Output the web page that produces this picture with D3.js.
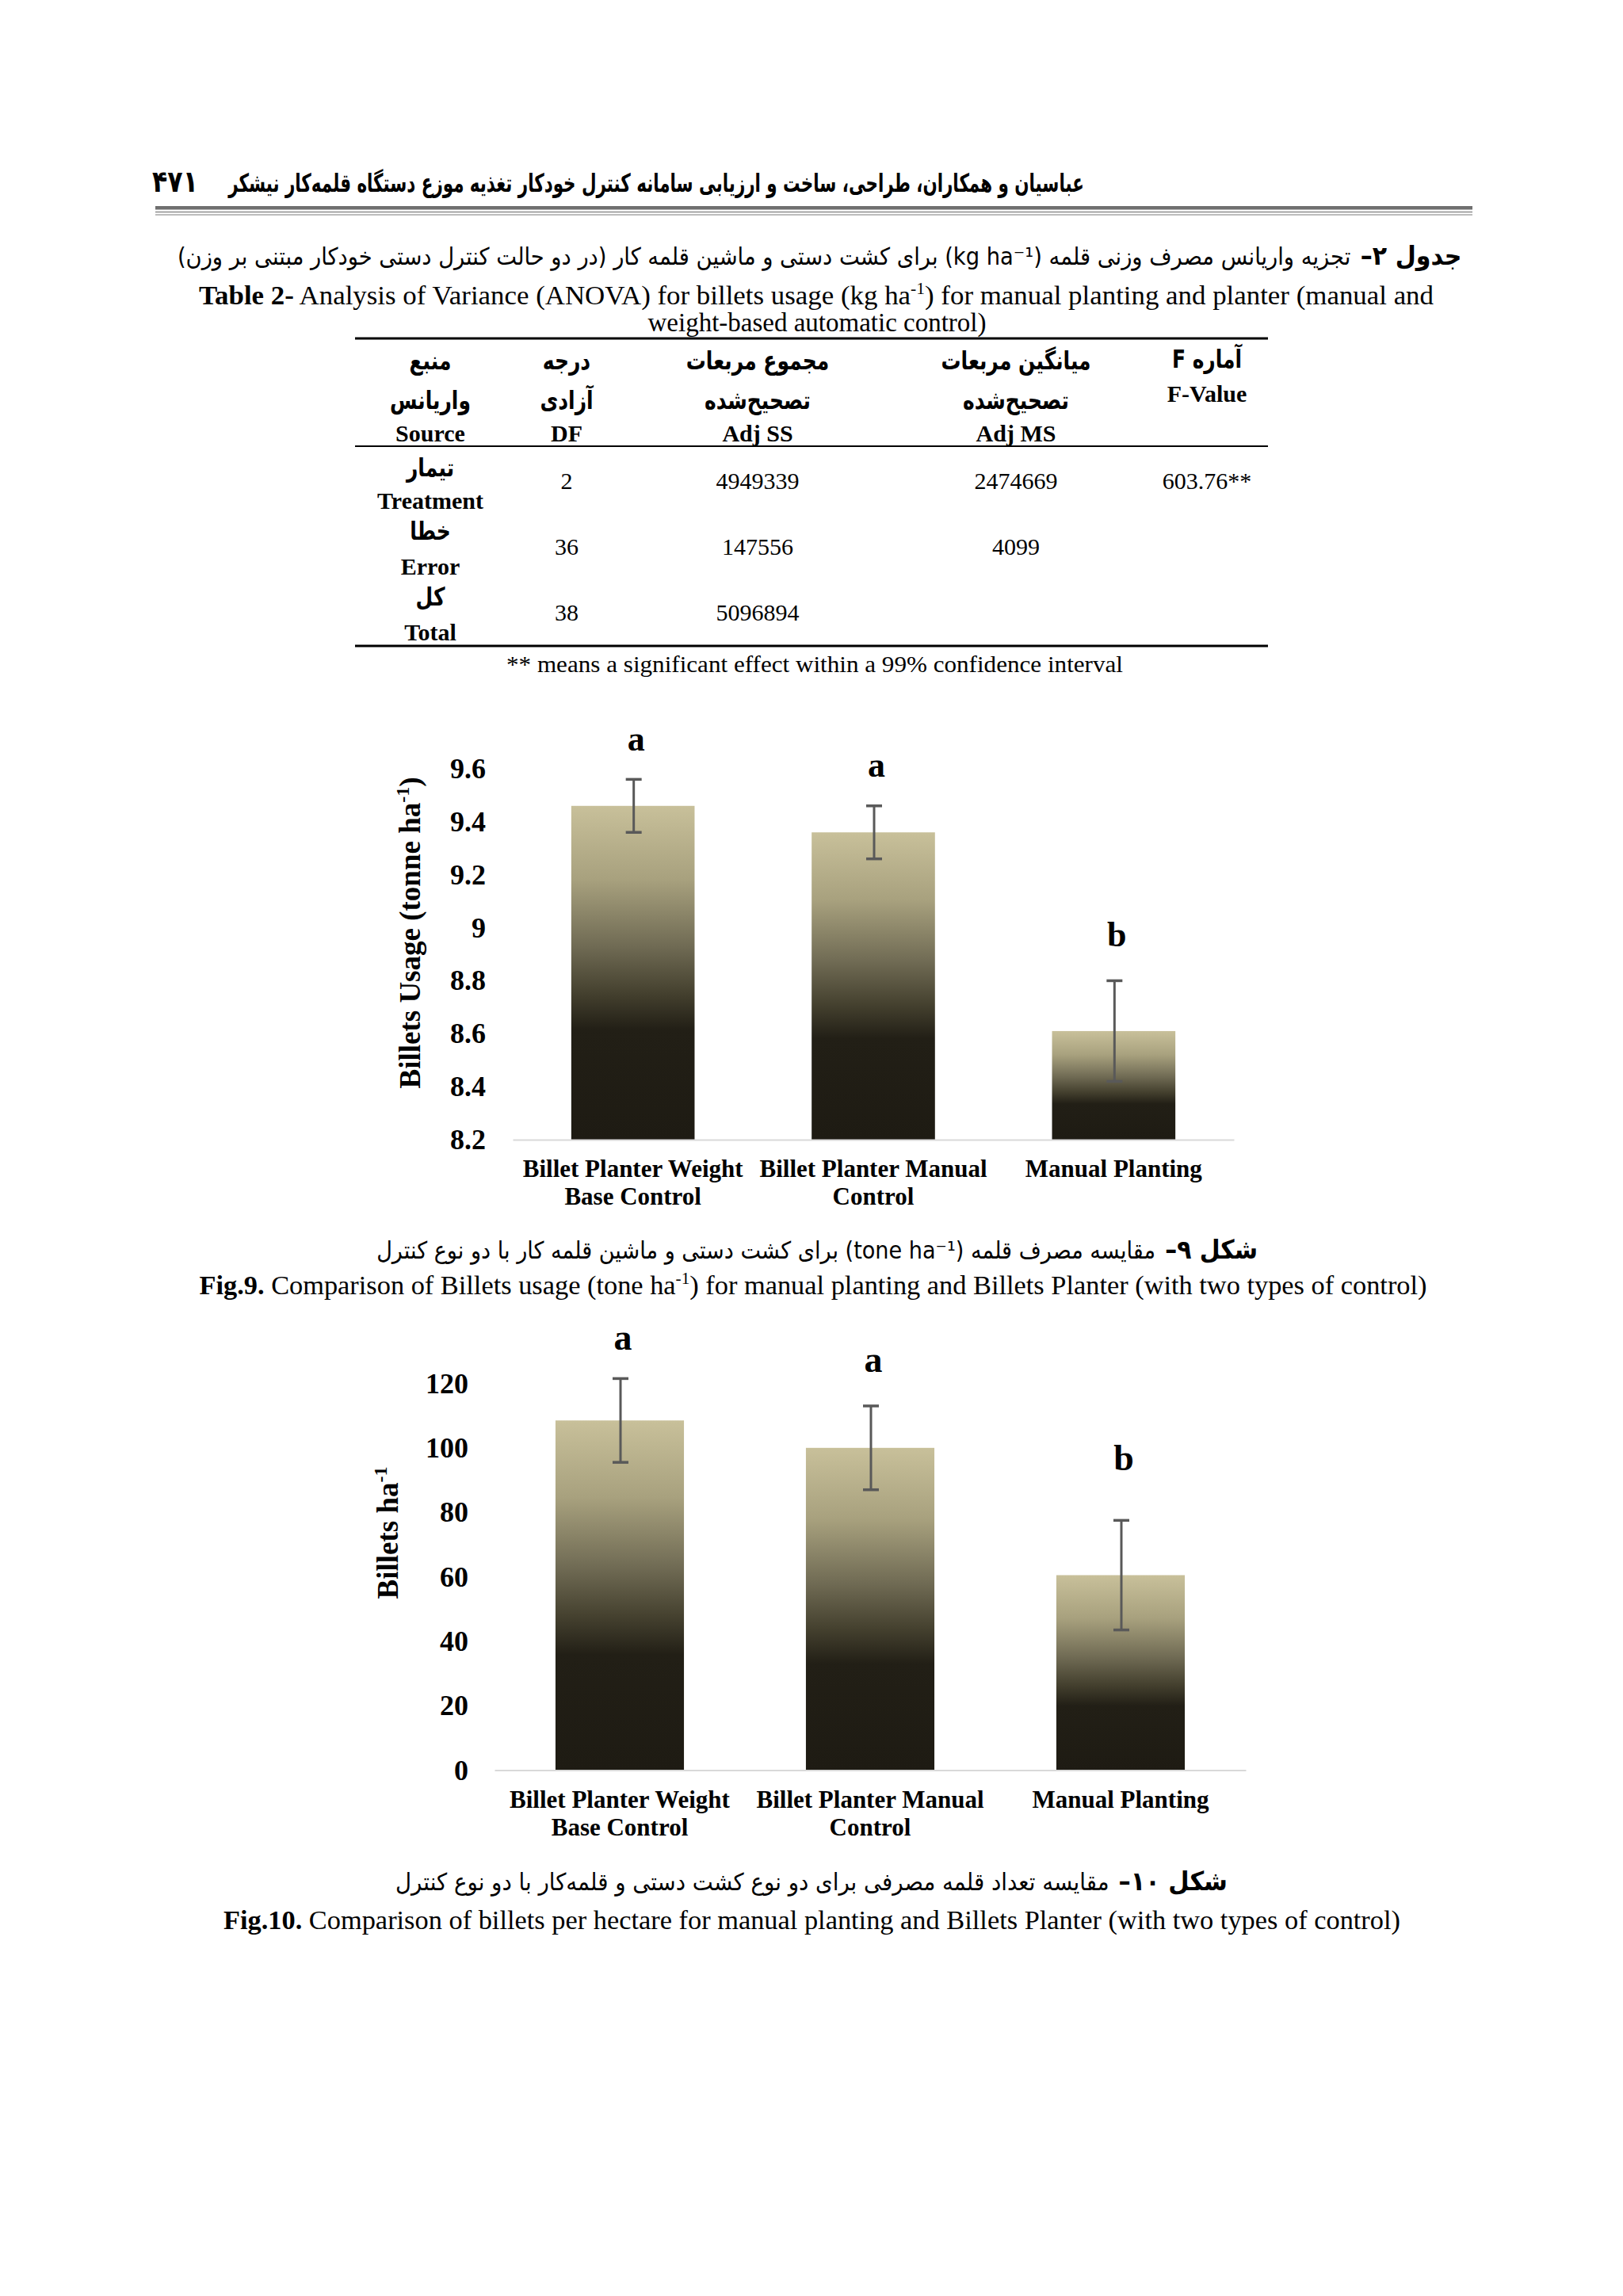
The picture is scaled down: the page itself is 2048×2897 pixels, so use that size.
<!DOCTYPE html>
<html>
<head>
<meta charset="utf-8">
<script src="https://cdn.jsdelivr.net/npm/d3@7"></script>
<style>
  html, body { margin: 0; padding: 0; background: #ffffff; }
  svg { display: block; }
</style>
</head>
<body>
<script>
// ---------------- DATA ----------------
const categories = [
  ["Billet Planter Weight", "Base Control"],
  ["Billet Planter Manual", "Control"],
  ["Manual Planting"]
];
const categoryKeys = ["weight", "manualControl", "manualPlanting"];

// Fig.9 – Billets usage (tonne/ha)
const usageValues = [9.46, 9.36, 8.61];
const usageErrors = [0.10, 0.10, 0.19];
const usageLetters = ["a", "a", "b"];
const usageLetterAt = [9.67, 9.57, 8.93];
const usageTicks = [8.2, 8.4, 8.6, 8.8, 9.0, 9.2, 9.4, 9.6];
const usageTickLabels = ["8.2", "8.4", "8.6", "8.8", "9", "9.2", "9.4", "9.6"];

// Fig.10 – Billets per hectare
const countValues = [108.5, 100, 60.5];
const countErrors = [13, 13, 17];
const countLetters = ["a", "a", "b"];
const countLetterAt = [130.4, 123.5, 93];
const countTicks = [0, 20, 40, 60, 80, 100, 120];
const countTickLabels = ["0", "20", "40", "60", "80", "100", "120"];

// Table 2 – ANOVA
const anovaSourceFa = ["تیمار", "خطا", "کل"];
const anovaSourceEn = ["Treatment", "Error", "Total"];
const anovaDF = ["2", "36", "38"];
const anovaSS = ["4949339", "147556", "5096894"];
const anovaMS = ["2474669", "4099", ""];
const anovaF = ["603.76**", "", ""];

// ---------------- SETUP ----------------
const W = 2048, H = 2897;
const SERIF = "'Liberation Serif', 'Times New Roman', serif";
const FA = "'DejaVu Sans', 'Noto Sans', sans-serif";

const svg = d3.select("body").append("svg")
  .attr("width", W).attr("height", H)
  .attr("viewBox", `0 0 ${W} ${H}`);
svg.append("rect").attr("width", W).attr("height", H).attr("fill", "#fff");

const defs = svg.append("defs");
const grad = defs.append("linearGradient").attr("id", "barGrad")
  .attr("x1", 0).attr("y1", 0).attr("x2", 0).attr("y2", 1);
[[0, "#c8c09a"], [0.22, "#a8a17e"], [0.42, "#706b54"], [0.56, "#45412f"], [0.67, "#221f16"], [1, "#1e1b13"]]
  .forEach(([o, c]) => grad.append("stop").attr("offset", o).attr("stop-color", c));

// rich text helper (LTR): parts [{t, bold, sup, size}]
function richText(g, x, y, parts, o) {
  const size = o.size;
  const t = g.append("text")
    .attr("x", x).attr("y", y)
    .attr("text-anchor", o.anchor || "middle")
    .attr("font-family", o.family || SERIF)
    .attr("font-size", size)
    .attr("font-weight", o.bold ? "bold" : "normal")
    .attr("fill", "#000");
  let shifted = false;
  parts.forEach(p => {
    const s = t.append("tspan").text(p.t);
    if (p.bold) s.attr("font-weight", "bold");
    if (p.sup) {
      s.attr("font-size", size * 0.62).attr("dy", -size * 0.38);
      shifted = true;
    } else if (shifted) {
      s.attr("dy", size * 0.38);
      shifted = false;
    }
  });
  if (o.textLength) t.attr("textLength", o.textLength).attr("lengthAdjust", "spacingAndGlyphs");
  return t;
}

// Persian text, horizontally scaled via transform (keeps true bounding box)
function faText(g, txt, size, bold) {
  return g.append("text")
    .attr("x", 0).attr("y", 0).attr("text-anchor", "middle").attr("direction", "rtl")
    .attr("font-family", FA).attr("font-size", size)
    .attr("font-weight", bold ? "bold" : "normal").attr("fill", "#000").text(txt);
}
function faFit(g, txt, cx, y, size, bold, opt) {
  const t = faText(g, txt, size, bold);
  const w = t.node().getComputedTextLength();
  const f = opt.width ? opt.width / w : opt.scale;
  t.attr("transform", `translate(${cx},${y}) scale(${f},1)`);
  return t;
}
// Persian line: bold prefix on the right, body to its left, fitted to a total width
function faLine(g, cx, y, totalW, prefix, body, pSize, bSize) {
  const pt = faText(g, prefix, pSize, true);
  const bt = faText(g, body, bSize, false);
  const pw = pt.node().getComputedTextLength();
  const bw = bt.node().getComputedTextLength();
  const gap = 12;
  const f = (totalW - gap) / (pw + bw);
  const right = cx + totalW / 2;
  pt.attr("transform", `translate(${right - pw * f / 2},${y}) scale(${f},1)`);
  bt.attr("transform", `translate(${right - pw * f - gap - bw * f / 2},${y}) scale(${f},1)`);
}

// ---------------- HEADER ----------------
faFit(svg, "۴۷۱", 221, 242, 38, true, { width: 58 });
faFit(svg, "عباسیان و همکاران، طراحی، ساخت و ارزیابی سامانه کنترل خودکار تغذیه موزع دستگاه قلمه\u200cکار نیشکر",
  828, 242, 32, true, { width: 1080 });
svg.append("rect").attr("x", 196).attr("y", 260).attr("width", 1662).attr("height", 4.5).attr("fill", "#6f6f6f");
svg.append("line").attr("x1", 196).attr("x2", 1858).attr("y1", 267.5).attr("y2", 267.5).attr("stroke", "#8c8c8c").attr("stroke-width", 1.6);
svg.append("line").attr("x1", 196).attr("x2", 1858).attr("y1", 271).attr("y2", 271).attr("stroke", "#a6a6a6").attr("stroke-width", 1.4);

// ---------------- TABLE CAPTION ----------------
faLine(svg, 1034, 334, 1621, "جدول ۲–",
  "تجزیه واریانس مصرف وزنی قلمه (kg ha⁻¹) برای کشت دستی و ماشین قلمه کار (در دو حالت کنترل دستی خودکار مبتنی بر وزن)", 33, 30);

richText(svg, 1030, 384, [
  { t: "Table 2-", bold: true },
  { t: " Analysis of Variance (ANOVA) for billets usage (kg ha" },
  { t: "-1", sup: true },
  { t: ") for manual planting and planter (manual and" }
], { size: 33, textLength: 1558 });
richText(svg, 1031, 418, [{ t: "weight-based automatic control)" }], { size: 33 });

// ---------------- TABLE ----------------
const tbl = svg.append("g");
const tX0 = 448, tX1 = 1600;
const colX = [543, 715, 956, 1282, 1523];
[[427, 2.8], [563, 2.2], [815, 2.8]].forEach(([y, w]) =>
  tbl.append("line").attr("x1", tX0).attr("x2", tX1).attr("y1", y).attr("y2", y)
    .attr("stroke", "#000").attr("stroke-width", w));

const headers = [
  [{ t: "منبع", fa: 1, y: 455 }, { t: "واریانس", fa: 1, y: 505 }, { t: "Source", y: 547 }],
  [{ t: "درجه", fa: 1, y: 455 }, { t: "آزادی", fa: 1, y: 505 }, { t: "DF", y: 547 }],
  [{ t: "مجموع مربعات", fa: 1, y: 455 }, { t: "تصحیح\u200cشده", fa: 1, y: 505 }, { t: "Adj SS", y: 547 }],
  [{ t: "میانگین مربعات", fa: 1, y: 455 }, { t: "تصحیح\u200cشده", fa: 1, y: 505 }, { t: "Adj MS", y: 547 }],
  [{ t: "آماره F", fa: 1, y: 453 }, { t: "F-Value", y: 497 }]
];
headers.forEach((col, i) => col.forEach(c => {
  if (c.fa) faFit(tbl, c.t, colX[i], c.y + 11, 32, true, { scale: 0.78 });
  else richText(tbl, colX[i], c.y + 10, [{ t: c.t }], { size: 30, bold: true });
}));

const rowFaY = [590, 670, 753], rowEnY = [632, 715, 798], rowValY = [607, 690, 773];
anovaSourceFa.forEach((s, i) => {
  faFit(tbl, s, colX[0], rowFaY[i] + 11, 32, true, { scale: 0.78 });
  richText(tbl, colX[0], rowEnY[i] + 10, [{ t: anovaSourceEn[i] }], { size: 30, bold: true });
  [anovaDF, anovaSS, anovaMS, anovaF].forEach((arr, j) => {
    if (arr[i]) richText(tbl, colX[j + 1], rowValY[i] + 10, [{ t: arr[i] }], { size: 30 });
  });
});
richText(tbl, 1028, 848, [{ t: "** means a significant effect within a 99% confidence interval" }], { size: 29, textLength: 778 });

// ---------------- CHARTS ----------------
function drawChart(cfg) {
  const g = svg.append("g");
  const x = d3.scaleBand().domain(categoryKeys).range(cfg.xRange)
    .paddingInner(0.487).paddingOuter(0.2435);
  const y = d3.scaleLinear().domain(cfg.yDomain).range(cfg.yRange);
  const base = cfg.yDomain[0];

  // y axis labels (no line, no ticks)
  const yAxis = d3.axisLeft(y).tickValues(cfg.ticks)
    .tickFormat((d, i) => cfg.tickLabels[i]).tickSize(0).tickPadding(cfg.xRange[0] - cfg.labelRight);
  const ya = g.append("g").attr("transform", `translate(${cfg.xRange[0]},0)`).call(yAxis);
  ya.select(".domain").remove();
  ya.selectAll("text").attr("font-family", SERIF).attr("font-size", 36)
    .attr("font-weight", "bold").attr("fill", "#000");

  // bars
  g.selectAll("rect.bar").data(cfg.values).join("rect").attr("class", "bar")
    .attr("x", (d, i) => x(categoryKeys[i]))
    .attr("width", x.bandwidth())
    .attr("y", d => y(d))
    .attr("height", d => y(base) - y(d))
    .attr("fill", "url(#barGrad)");

  // x axis line
  const xAxis = d3.axisBottom(x).tickSize(0).tickFormat("");
  const xa = g.append("g").attr("transform", `translate(0,${y(base)})`).call(xAxis);
  xa.select(".domain").attr("stroke", "#d9d9d9").attr("stroke-width", 2.2);

  // error bars
  const eb = g.selectAll("g.err").data(cfg.values).join("g").attr("class", "err")
    .attr("transform", (d, i) => `translate(${x(categoryKeys[i]) + x.bandwidth() / 2 + 1},0)`);
  eb.append("line").attr("x1", 0).attr("x2", 0)
    .attr("y1", (d, i) => y(d + cfg.errors[i]))
    .attr("y2", (d, i) => y(Math.max(base, d - cfg.errors[i])))
    .attr("stroke", "#595959").attr("stroke-width", 3);
  ["top", "bottom"].forEach(pos => {
    eb.append("line").attr("x1", -10).attr("x2", 10)
      .attr("y1", (d, i) => y(pos === "top" ? d + cfg.errors[i] : d - cfg.errors[i]))
      .attr("y2", (d, i) => y(pos === "top" ? d + cfg.errors[i] : d - cfg.errors[i]))
      .attr("stroke", "#595959").attr("stroke-width", 3.5);
  });

  // significance letters
  g.selectAll("text.sig").data(cfg.letters).join("text").attr("class", "sig")
    .attr("x", (d, i) => x(categoryKeys[i]) + x.bandwidth() / 2 + 4)
    .attr("y", (d, i) => y(cfg.letterAt[i]))
    .attr("text-anchor", "middle")
    .attr("font-family", SERIF).attr("font-weight", "bold").attr("font-size", cfg.letterSize)
    .text(d => d);

  // category labels
  categories.forEach((lines, i) => {
    const t = g.append("text")
      .attr("x", x(categoryKeys[i]) + x.bandwidth() / 2)
      .attr("y", y(base) + 47)
      .attr("text-anchor", "middle").attr("font-family", SERIF)
      .attr("font-weight", "bold").attr("font-size", 31).attr("fill", "#000");
    lines.forEach((ln, k) => t.append("tspan")
      .attr("x", x(categoryKeys[i]) + x.bandwidth() / 2)
      .attr("dy", k === 0 ? 0 : 35).text(ln));
  });

  // y title
  const yt = g.append("text")
    .attr("transform", `translate(${cfg.titleX},${cfg.titleY}) rotate(-90)`)
    .attr("text-anchor", "middle").attr("font-family", SERIF)
    .attr("font-weight", "bold").attr("font-size", 37).attr("fill", "#000");
  yt.append("tspan").text(cfg.title);
  yt.append("tspan").attr("font-size", 24).attr("dy", -14).text("-1");
  if (cfg.titleTail) yt.append("tspan").attr("dy", 14).text(cfg.titleTail);
}

drawChart({
  xRange: [647, 1557], yDomain: [8.2, 9.6], yRange: [1438, 970],
  ticks: usageTicks, tickLabels: usageTickLabels, labelRight: 613,
  values: usageValues, errors: usageErrors, letters: usageLetters, letterAt: usageLetterAt,
  letterSize: 44, title: "Billets Usage (tonne ha", titleTail: ")", titleX: 530, titleY: 1177
});

drawChart({
  xRange: [624, 1572], yDomain: [0, 120], yRange: [2233.5, 1745.5],
  ticks: countTicks, tickLabels: countTickLabels, labelRight: 591,
  values: countValues, errors: countErrors, letters: countLetters, letterAt: countLetterAt,
  letterSize: 46, title: "Billets ha", titleTail: null, titleX: 502, titleY: 1934
});

// ---------------- FIGURE CAPTIONS ----------------
faLine(svg, 1031, 1588, 1112, "شکل ۹–",
  "مقایسه مصرف قلمه (tone ha⁻¹) برای کشت دستی و ماشین قلمه کار با دو نوع کنترل", 33, 30);

richText(svg, 1026, 1633, [
  { t: "Fig.9.", bold: true },
  { t: " Comparison of Billets usage (tone ha" },
  { t: "-1", sup: true },
  { t: ") for manual planting and Billets Planter (with two types of control)" }
], { size: 33, textLength: 1549 });

faLine(svg, 1024, 2385, 1050, "شکل ۱۰–",
  "مقایسه تعداد قلمه مصرفی برای دو نوع کشت دستی و قلمه\u200cکار با دو نوع کنترل", 33, 30);

richText(svg, 1024.5, 2434, [
  { t: "Fig.10.", bold: true },
  { t: " Comparison of billets per hectare for manual planting and Billets Planter (with two types of control)" }
], { size: 33, textLength: 1485 });
</script>
</body>
</html>
